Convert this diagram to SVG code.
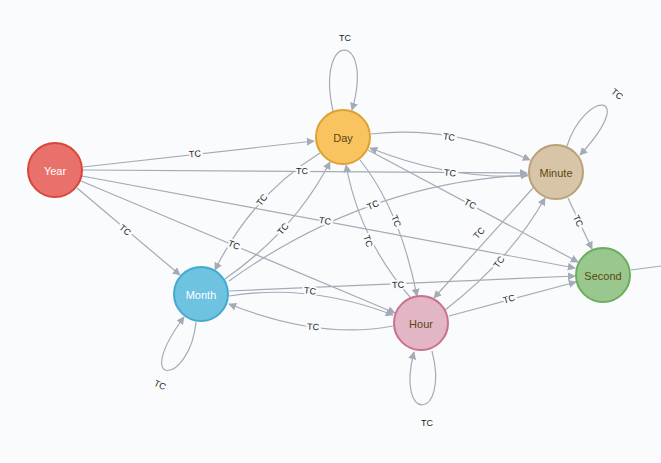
<svg xmlns="http://www.w3.org/2000/svg" width="661" height="463" viewBox="0 0 661 463">
<style>
.e{fill:none;stroke:#a5abb6;stroke-width:1.2;marker-end:url(#a)}
.l{font-family:"Liberation Sans",Arial,sans-serif;font-size:9px;fill:#222;text-anchor:middle;dominant-baseline:central;stroke:#f9fbfd;stroke-width:4;paint-order:stroke}
.n{stroke-width:2}
.t{font-family:"Liberation Sans",Arial,sans-serif;font-size:11px;text-anchor:middle;dominant-baseline:central;fill:#5a4710}
</style>
<defs><marker id="a" viewBox="0 0 10 10" refX="9" refY="5" markerWidth="8" markerHeight="8" orient="auto" markerUnits="userSpaceOnUse"><path d="M0,0L10,5L0,10z" fill="#a5abb6"/></marker></defs>
<rect width="661" height="463" fill="#f9fbfd"/>
<g id="edges">
<path class="e" d="M83,167L314,141"/>
<path class="e" d="M83,170L527,173"/>
<path class="e" d="M82,176L575,268"/>
<path class="e" d="M81,181L395,313"/>
<path class="e" d="M77,188L180,275"/>
<path class="e" d="M320,153Q252,195 215,270"/>
<path class="e" d="M225,279Q295,230 330,162"/>
<path class="e" d="M229,281Q367,182 528,175"/>
<path class="e" d="M229,291L575,276"/>
<path class="e" d="M229,296Q310,283 393,315"/>
<path class="e" d="M393,326Q320,340 229,304"/>
<path class="e" d="M371,134Q450,125 530,160"/>
<path class="e" d="M528,176Q450,180 370,148"/>
<path class="e" d="M368,150L578,262"/>
<path class="e" d="M360,160Q400,210 417,296"/>
<path class="e" d="M410,297Q360,240 346,165"/>
<path class="e" d="M533,188L434,298"/>
<path class="e" d="M445,310Q510,260 545,198"/>
<path class="e" d="M449,316L576,282"/>
<path class="e" d="M568,198L592,249"/>
<path class="e" d="M333,111C315,30 375,30 352,110"/>
<path class="e" d="M567,146C585,90 640,90 580,155"/>
<path class="e" d="M196,322C190,385 130,390 184,317"/>
<path class="e" d="M432,351C450,420 395,425 414,352"/>
<path class="e" style="marker-end:none" d="M631,270L661,266"/>
<text class="l" transform="translate(195,154) rotate(-6)">TC</text>
<text class="l" transform="translate(302,171)">TC</text>
<text class="l" transform="translate(325,221) rotate(11)">TC</text>
<text class="l" transform="translate(234,245) rotate(23)">TC</text>
<text class="l" transform="translate(125,230) rotate(40)">TC</text>
<text class="l" transform="translate(262,200) rotate(-52)">TC</text>
<text class="l" transform="translate(283,229) rotate(-50)">TC</text>
<text class="l" transform="translate(373,205) rotate(-24)">TC</text>
<text class="l" transform="translate(398,285) rotate(-3)">TC</text>
<text class="l" transform="translate(310,291) rotate(6)">TC</text>
<text class="l" transform="translate(313,327) rotate(2)">TC</text>
<text class="l" transform="translate(449,137) rotate(8)">TC</text>
<text class="l" transform="translate(450,173) rotate(5)">TC</text>
<text class="l" transform="translate(470,204) rotate(28)">TC</text>
<text class="l" transform="translate(396,221) rotate(67)">TC</text>
<text class="l" transform="translate(368,241) rotate(72)">TC</text>
<text class="l" transform="translate(479,233) rotate(-48)">TC</text>
<text class="l" transform="translate(499,262) rotate(-55)">TC</text>
<text class="l" transform="translate(509,299) rotate(-15)">TC</text>
<text class="l" transform="translate(578,221) rotate(64)">TC</text>
<text class="l" transform="translate(345,38)">TC</text>
<text class="l" transform="translate(617,94) rotate(40)">TC</text>
<text class="l" transform="translate(160,385) rotate(25)">TC</text>
<text class="l" transform="translate(427,423)">TC</text>
</g>
<g id="year"><circle class="n" cx="55" cy="170" r="27" fill="#e8716b" stroke="#d9463a"/><text class="t" x="55" y="171" fill="#fff" style="fill:#fff">Year</text></g>
<g id="day"><circle class="n" cx="343" cy="137" r="27" fill="#f9c45f" stroke="#dba231"/><text class="t" x="343" y="138">Day</text></g>
<g id="minute"><circle class="n" cx="556" cy="172" r="27" fill="#d8c5a8" stroke="#b9a07a"/><text class="t" x="556" y="173">Minute</text></g>
<g id="second"><circle class="n" cx="603" cy="275" r="27" fill="#99c78e" stroke="#6aad5c"/><text class="t" x="603" y="276">Second</text></g>
<g id="month"><circle class="n" cx="201" cy="294" r="27" fill="#6dc3e0" stroke="#46a9cf"/><text class="t" x="201" y="295" style="fill:#fff">Month</text></g>
<g id="hour"><circle class="n" cx="421" cy="323" r="27" fill="#e3b6c6" stroke="#c9708f"/><text class="t" x="421" y="324">Hour</text></g>
</svg>
